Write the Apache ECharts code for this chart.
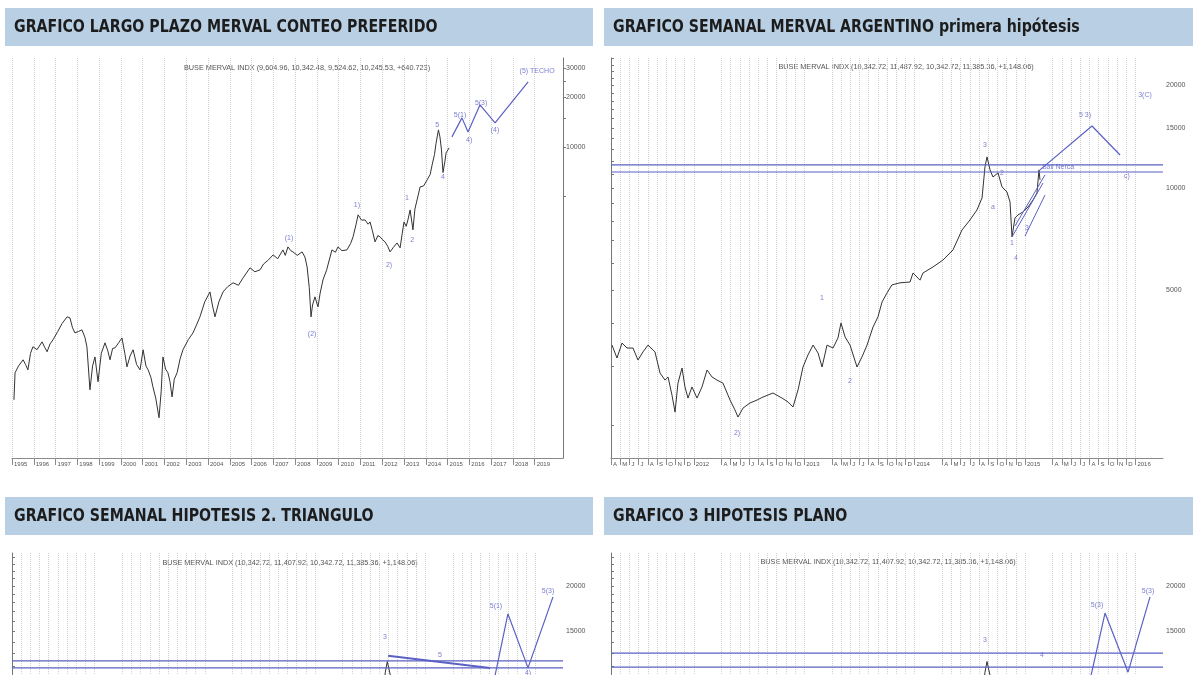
<!DOCTYPE html>
<html>
<head>
<meta charset="utf-8">
<script src="https://cdn.jsdelivr.net/npm/echarts@6/dist/echarts.min.js"></script>
<style>
  html, body { margin: 0; background: #fff; }
  #grafico { width: 1200px; height: 675px; }
</style>
</head>
<body>
<div id="grafico"></div>
<script>
// Merval largo plazo: [año, valor]
var largoPlazo = [
  [1995.09,293],[1995.14,427],[1995.30,470],[1995.51,512],[1995.62,480],[1995.73,445],[1995.85,560],[1995.96,614],
  [1996.15,590],[1996.38,658],[1996.50,610],[1996.61,573],[1996.75,640],[1996.88,676],[1997.10,760],[1997.30,850],
  [1997.53,933],[1997.66,920],[1997.78,800],[1997.89,746],[1998.05,760],[1998.21,778],[1998.35,700],[1998.44,614],
  [1998.58,337],[1998.70,470],[1998.81,533],[1998.95,377],[1999.10,560],[1999.27,649],[1999.40,580],[1999.50,512],
  [1999.62,600],[1999.73,605],[1999.90,650],[2000.05,695],[2000.18,560],[2000.28,464],[2000.42,540],[2000.56,589],
  [2000.72,480],[2000.88,445],[2001.02,589],[2001.15,470],[2001.25,445],[2001.38,400],[2001.47,351],[2001.60,300],
  [2001.75,228],[2001.85,330],[2001.93,533],[2002.05,450],[2002.16,427],[2002.25,380],[2002.35,305],[2002.45,390],
  [2002.58,427],[2002.72,520],[2002.85,589],[2003.10,680],[2003.31,746],[2003.45,820],[2003.63,933],[2003.85,1150],
  [2004.09,1321],[2004.20,1100],[2004.32,933],[2004.50,1150],[2004.69,1321],[2004.90,1420],[2005.15,1500],[2005.40,1450],
  [2005.60,1600],[2005.93,1849],[2006.15,1750],[2006.39,1798],[2006.55,1950],[2006.75,2050],[2006.99,2215],[2007.20,2100],
  [2007.44,2375],[2007.55,2200],[2007.67,2477],[2007.80,2350],[2007.90,2310],[2008.10,2200],[2008.32,2310],[2008.45,2150],
  [2008.55,1873],[2008.65,1400],[2008.73,933],[2008.80,1100],[2008.91,1233],[2009.05,1072],[2009.15,1300],[2009.28,1563],
  [2009.45,1800],[2009.69,2375],[2009.85,2300],[2009.97,2477],[2010.15,2350],[2010.38,2375],[2010.55,2600],[2010.66,2849],
  [2010.80,3400],[2010.89,3873],[2011.05,3600],[2011.21,3610],[2011.35,3400],[2011.44,3510],[2011.55,3100],[2011.67,2655],
  [2011.80,2900],[2011.90,2849],[2012.00,2750],[2012.13,2655],[2012.25,2500],[2012.36,2310],[2012.50,2450],[2012.68,2617],
  [2012.82,2443],[2012.92,3000],[2013.00,3510],[2013.10,3300],[2013.18,3610],[2013.28,4150],[2013.41,3142],[2013.50,4200],
  [2013.60,4775],[2013.74,5723],[2013.90,5800],[2014.06,6310],[2014.20,6800],[2014.29,7780],[2014.40,9000],[2014.47,10500],
  [2014.58,12680],[2014.65,11500],[2014.72,9590],[2014.79,7000],[2014.88,8200],[2014.93,9200],[2015.07,9860]
];
var largoProyeccion = [[2015.20,11500],[2015.66,15000],[2015.94,12330],[2016.49,17990],[2017.18,13970],[2018.70,24770]];
var largoEtiquetas = [
  [2007.72,2805,'(1)'],[2008.78,736,'(2)'],[2010.84,4446,'1)'],[2012.31,1928,'2)'],[2013.14,4910,'1'],[2013.37,2730,'2'],
  [2014.52,13590,'5'],[2014.79,6580,'4'],[2015.57,15630,'5(1)'],[2015.99,11030,'4)'],[2016.54,18490,'5(3)'],
  [2017.18,12680,'(4)'],[2019.11,28900,'(5) TECHO']
];
var anios = [];
for (var a = 1995; a <= 2019; a++) anios.push(a);

// Merval semanal: [mes desde abril 2011, valor]
var semanal = [
  [0.11,3451],[0.65,3162],[1.20,3500],[1.74,3383],[2.39,3383],[2.93,3119],[3.48,3296],[4.02,3451],[4.78,3296],
  [5.33,2856],[5.87,2723],[6.20,2781],[6.63,2459],[6.96,2193],[7.28,2668],[7.72,2955],[8.04,2600],[8.37,2411],
  [8.80,2600],[9.35,2411],[9.89,2600],[10.44,2916],[10.98,2781],[11.52,2723],[12.17,2668],[12.94,2379],[13.48,2223],
  [13.80,2120],[14.35,2253],[15.11,2333],[15.87,2379],[16.52,2428],[17.61,2495],[18.59,2411],[19.24,2349],[19.78,2270],
  [20.33,2547],[20.87,2976],[21.41,3228],[21.96,3451],[22.50,3273],[22.94,2976],[23.48,3451],[24.13,3383],[24.67,3622],
  [25.00,4009],[25.44,3647],[25.98,3451],[26.74,2976],[27.28,3185],[27.83,3451],[28.48,3900],[29.02,4178],[29.46,4621],
  [30.00,4911],[30.54,5188],[31.41,5260],[32.50,5290],[32.83,5623],[33.59,5357],[33.91,5623],[35.00,5858],[36.09,6140],
  [37.17,6572],[38.15,7520],[39.02,8050],[39.78,8616],[40.33,9343],[40.65,11530],[40.87,12340],[41.20,11300],
  [41.52,10770],[42.07,11070],[42.50,10070],[43.04,9730],[43.37,9100],[43.59,7180],[43.91,8160],[44.24,8330],
  [44.78,8500],[45.33,8790],[45.87,9220],[46.30,9660],[46.52,11300],[46.63,10560]
];
var letrasMes = ['J','F','M','A','M','J','J','A','S','O','N','D'];

// hipótesis 1
var h1Niveles = [11690, 11140];
var h1Proyeccion = [[46.63,11300],[52.28,15210],[55.33,12500]];
var h1Canal = [
  [[43.59,7180],[46.96,10340]],
  [[43.91,7730],[47.17,10920]],
  [[45.00,7220],[47.17,9530]]
];
var h1Etiquetas = [
  [40.65,13370,'3'],[41.52,8790,'a'],[42.50,11070,'2'],[43.59,6890,'1'],[44.02,6225,'4'],[45.22,7630,'3'],
  [48.59,11530,'Sali Nerca'],[51.52,16400,'5 3)'],[58.04,18790,'3(C)'],[56.09,10850,'c)'],
  [22.94,4745,'1'],[25.98,2706,'2'],[13.70,1900,'2)']
];

// hipótesis 2: triángulo
var h2Niveles = [12390, 11850];
var h2Triangulo = [[40.95,12800],[52.05,11850]];
var h2Proyeccion = [[52.05,9660],[54.00,16750],[56.19,11850],[58.91,18660]];
var h2Etiquetas = [[40.62,14450,'3'],[46.61,12880,'5'],[52.70,17620,'5(1)'],[58.37,19380,'5(3)'],[56.19,11440,'4)']];

// hipótesis 3: plano
var h3Niveles = [13030, 11910];
var h3Proyeccion = [[52.07,10970],[53.70,16830],[56.20,11530],[58.59,18660]];
var h3Etiquetas = [[40.65,14170,'3'],[46.85,12900,'4'],[52.83,17740,'5(3)'],[58.37,19380,'5(3)']];

var azul = '#5b60c4';
var gris = '#8a8a8a';

var chart = echarts.init(document.getElementById('grafico'));

function ejeX(gi, min, max, etiquetas, fmt) {
  return {
    type: 'value', gridIndex: gi, min: min, max: max, interval: 1,
    axisLine: { show: true, lineStyle: { color: gris } },
    axisTick: { show: true, length: 7, customValues: etiquetas, lineStyle: { color: gris } },
    axisLabel: { customValues: etiquetas, formatter: fmt, fontSize: 6, color: '#555', align: 'left', margin: 3, padding: [0, 0, 0, 2] },
    splitLine: { show: true, lineStyle: { color: '#cfcfcf', type: 'dotted' } }
  };
}
function ejeY(gi, min, max, marcas, textos) {
  return {
    type: 'log', gridIndex: gi, position: 'right', min: min, max: max, logBase: 10,
    axisLine: { show: true, lineStyle: { color: '#777' } },
    axisTick: { show: true, length: 3, customValues: marcas, lineStyle: { color: '#777' } },
    axisLabel: { customValues: textos, formatter: function (v) { return String(Math.round(v)); }, fontSize: 7, color: '#555', margin: 3 },
    splitLine: { show: false }
  };
}
function linea(gi, datos, color, ancho) {
  return { type: 'line', xAxisIndex: gi, yAxisIndex: gi, data: datos, symbol: 'none', silent: true,
    lineStyle: { color: color, width: ancho }, clip: true };
}
function etiquetas(gi, datos) {
  return { type: 'scatter', xAxisIndex: gi, yAxisIndex: gi, data: datos, symbolSize: 1, silent: true,
    itemStyle: { color: 'rgba(0,0,0,0)' },
    label: { show: true, position: 'inside', formatter: function (p) { return p.value[2]; }, fontSize: 7, color: azul } };
}
function niveles(gi, vals) {
  return vals.map(function (v) { return linea(gi, [[0, v], [60, v]], azul, 1.2); });
}

var mesesIdx = [];
for (var i = 0; i < 60; i++) { var mm = (3 + i) % 12; if (mm !== 1 && mm !== 2) mesesIdx.push(i); }
function fmtMes(v) {
  var mm = (3 + v) % 12;
  return mm === 0 ? String(2011 + Math.floor((3 + v) / 12)) : letrasMes[mm];
}
function fmtAnio(v) { return String(v); }

var marcasSem = [];
for (var k = 2000; k <= 24000; k += 1000) marcasSem.push(k);

function cabecera(x, y, w, texto) {
  return [
    { type: 'rect', shape: { x: x, y: y, width: w, height: 38 }, style: { fill: '#b8cfe4' } },
    { type: 'text', x: x + 9, y: y + 19, scaleX: 0.875, style: { text: texto, fill: '#1c1c1c', font: 'bold 18px "Liberation Sans Narrow", "DejaVu Sans Condensed", sans-serif', verticalAlign: 'middle' } }
  ];
}
function infoTexto(cx, y, texto) {
  return { type: 'text', x: cx, y: y, style: { text: texto, fill: '#555', font: '7.3px "Liberation Sans", sans-serif', align: 'center', verticalAlign: 'middle' } };
}

var series = [
  linea(0, largoPlazo, '#333', 1),
  linea(0, largoProyeccion, azul, 1.2),
  etiquetas(0, largoEtiquetas),
  linea(1, semanal, '#333', 1),
  linea(1, h1Proyeccion, azul, 1.2),
  etiquetas(1, h1Etiquetas),
  linea(2, semanal, '#333', 1),
  linea(2, h2Triangulo, azul, 2),
  linea(2, h2Proyeccion, azul, 1.2),
  etiquetas(2, h2Etiquetas),
  linea(3, semanal, '#333', 1),
  linea(3, h3Proyeccion, azul, 1.2),
  etiquetas(3, h3Etiquetas)
];
series = series.concat(niveles(1, h1Niveles), niveles(2, h2Niveles), niveles(3, h3Niveles));
h1Canal.forEach(function (c) { series.push(linea(1, c, azul, 1)); });

var option = {
  backgroundColor: '#fff',
  animation: false,
  grid: [
    { left: 12, top: 58, width: 551, height: 400, outerBoundsMode: 'none' },
    { left: 611, top: 58, width: 552, height: 400, outerBoundsMode: 'none' },
    { left: 12, top: 553, width: 551, height: 400, outerBoundsMode: 'none' },
    { left: 611, top: 553, width: 552, height: 400, outerBoundsMode: 'none' }
  ],
  xAxis: [
    ejeX(0, 1995, 2020.3, anios, fmtAnio),
    ejeX(1, 0, 60, mesesIdx, fmtMes),
    ejeX(2, 0, 60, mesesIdx, fmtMes),
    ejeX(3, 0, 60, mesesIdx, fmtMes)
  ],
  yAxis: [
    ejeY(0, 130, 34600, [5000, 10000, 15000, 20000, 25000, 30000], [10000, 20000, 30000]),
    ejeY(1, 1607, 24100, marcasSem, [5000, 10000, 15000, 20000]),
    ejeY(2, 1915, 24700, marcasSem, [10000, 15000, 20000]),
    ejeY(3, 1915, 24700, marcasSem, [10000, 15000, 20000])
  ],
  graphic: [].concat(
    cabecera(5, 8, 588, 'GRAFICO LARGO PLAZO MERVAL CONTEO PREFERIDO'),
    cabecera(604, 8, 589, 'GRAFICO SEMANAL MERVAL ARGENTINO primera hipótesis'),
    cabecera(5, 497, 588, 'GRAFICO SEMANAL HIPOTESIS 2. TRIANGULO'),
    cabecera(604, 497, 589, 'GRAFICO 3 HIPOTESIS PLANO'),
    [
      infoTexto(307, 68, 'BUSE MERVAL INDX (9,604.96, 10,342.48, 9,524.62, 10,245.53, +640.723)'),
      infoTexto(906, 67, 'BUSE MERVAL INDX (10,342.72, 11,487.92, 10,342.72, 11,385.36, +1,148.06)'),
      infoTexto(290, 563, 'BUSE MERVAL INDX (10,342.72, 11,407.92, 10,342.72, 11,385.36, +1,148.06)'),
      infoTexto(888, 562, 'BUSE MERVAL INDX (10,342.72, 11,407.92, 10,342.72, 11,385.36, +1,148.06)')
    ]
  ),
  series: series
};

chart.setOption(option);
</script>
</body>
</html>
